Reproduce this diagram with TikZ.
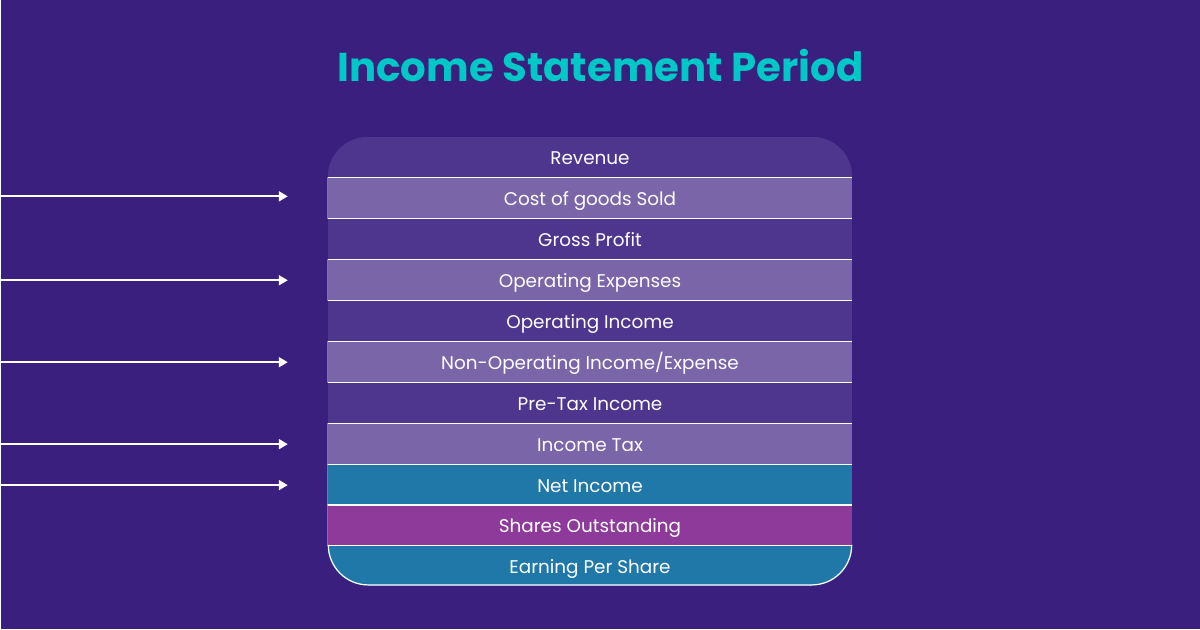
\documentclass[tikz,border=0pt]{standalone}
\usepackage{fontspec}
\setmainfont{Poppins}
\usetikzlibrary{arrows.meta}
\definecolor{bgc}{HTML}{3A1F7E}
\definecolor{rowdark}{HTML}{4E368F}
\definecolor{rowlight}{HTML}{7965A8}
\definecolor{rowblue}{HTML}{1F78A8}
\definecolor{rowmag}{HTML}{8E3A9A}
\definecolor{titlec}{HTML}{00C8C8}
\begin{document}
\begin{tikzpicture}[x=1pt,y=-1pt,
  row/.style={minimum width=525pt,minimum height=41pt,inner sep=0pt,outer sep=0pt,anchor=north west,text=white,text height=14pt,text depth=0pt,font=\fontsize{18.4}{20}\selectfont},
  darkrow/.style={row,fill=rowdark},
  lightrow/.style={row,fill=rowlight,draw=white,line width=1.2pt},
  bluerow/.style={row,fill=rowblue,draw=white,line width=1.2pt},
  magrow/.style={row,fill=rowmag,draw=white,line width=1.2pt},
  feed/.style={draw=white,line width=2pt,-{Triangle[length=9pt,width=10pt]}}]
\fill[bgc] (0,0) rectangle (1200,630);
\node[text=titlec,font=\bfseries\fontsize{40.3}{44}\selectfont] (title) at (600,66) {Income Statement Period};
\begin{scope}
\clip[rounded corners=40pt] (327,137) rectangle (852,586);
\node[darkrow] (rev) at (327,137) {Revenue};
\node[lightrow] (cogs) at (327,178) {Cost of goods Sold};
\node[darkrow] (gp) at (327,219) {Gross Profit};
\node[lightrow] (opex) at (327,260) {Operating Expenses};
\node[darkrow] (opinc) at (327,301) {Operating Income};
\node[lightrow] (nonop) at (327,342) {Non-Operating Income/Expense};
\node[darkrow] (pretax) at (327,383) {Pre-Tax Income};
\node[lightrow] (tax) at (327,424) {Income Tax};
\node[bluerow] (net) at (327,465) {Net Income};
\node[magrow] (shares) at (327,505.5) {Shares Outstanding};
\node[row,fill=rowblue] (eps) at (327,546) {Earning Per Share};
\end{scope}
\draw[white,line width=1.2pt,rounded corners=40pt] (327.6,546) -- (327.6,585.4) -- (851.4,585.4) -- (851.4,546);
\coordinate (edge) at (0,0);
\draw[feed] ([yshift=2pt]cogs.west -| edge) -- ([xshift=-40pt,yshift=2pt]cogs.west);
\foreach \r in {opex,nonop,tax,net}
  \draw[feed] (\r.west -| edge) -- ([xshift=-40pt]\r.west);
\end{tikzpicture}
\end{document}
